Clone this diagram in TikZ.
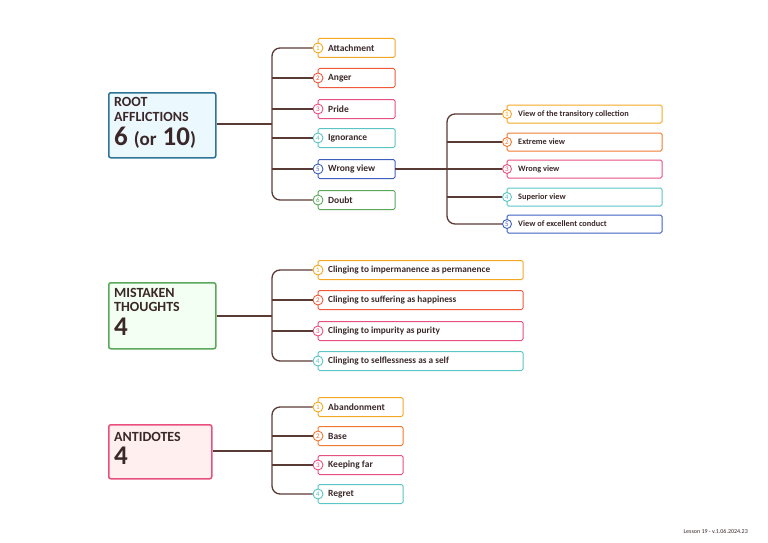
\documentclass[tikz,border=0pt]{standalone}
\usepackage{fontspec}
\setmainfont{Carlito}
\begin{document}
\definecolor{ln}{HTML}{5A3A35}
\definecolor{tx}{HTML}{3A2828}
\definecolor{cA}{HTML}{F5A623}
\definecolor{cB}{HTML}{F05A3A}
\definecolor{cO}{HTML}{F07A30}
\definecolor{cC}{HTML}{E8507F}
\definecolor{cD}{HTML}{5BC4C4}
\definecolor{cE}{HTML}{3F5FBF}
\definecolor{cF}{HTML}{5AA85A}
\definecolor{cR}{HTML}{2E7497}
\begin{tikzpicture}[x=1pt,y=-1pt,
  conn/.style={draw=ln,line width=1.3pt,rounded corners=8pt},
  ttl/.style={anchor=north west,text=tx,font=\bfseries\fontsize{14}{14}\selectfont,inner sep=0pt},
  big/.style={anchor=north west,text=tx,font=\bfseries\fontsize{27}{27}\selectfont,inner sep=0pt},
  lbl/.style={anchor=west,text=tx,font=\bfseries\fontsize{#1}{#1}\selectfont,inner sep=0pt},
  num/.style={circle,draw=#1,fill=white,line width=0.9pt,inner sep=0pt,minimum size=10pt,text=#1,font=\fontsize{7}{7}\selectfont}]
\useasboundingbox (0,0) rectangle (768,543);
% ROOT
\node[fill=cyan!8,draw=cR,line width=1.5pt,rounded corners=2pt,minimum width=107pt,minimum height=65pt,anchor=north west] (root) at (108,92) {};
\node[ttl] (t1) at (114,97) {ROOT};
\node[ttl] (t2) at (114,112) {AFFLICTIONS};
\node[big] (t3) at (114,127) {6 {\fontsize{19}{19}\selectfont(or} 10{\fontsize{19}{19}\selectfont)}};
\foreach \n/\t/\c/\y in {1/Attachment/cA/48,2/Anger/cB/78,3/Pride/cC/109,4/Ignorance/cD/138,5/Wrong view/cE/169,6/Doubt/cF/200}{
  \draw[\c,line width=1pt,rounded corners=1.5pt] (318,\y-9.5) rectangle (395,\y+9.5);
  \node[lbl=9.5] at (328,\y) {\t};
  \node[num=\c] (r\n) at (318,\y) {\n};}
\coordinate (rj) at (272,124);
\draw[conn] (root.east|-rj) -- (rj);
\draw[conn] (r1.west) -- (272,48) -- (272,200) -- (r6.west);
\foreach \n in {2,3,4,5}{\draw[conn] (272,0|-r\n) -- (r\n.west);}
% sub
\foreach \n/\t/\c/\y in {1/View of the transitory collection/cA/114,2/Extreme view/cO/142,3/Wrong view/cC/169,4/Superior view/cD/197,5/View of excellent conduct/cE/224}{
  \draw[\c,line width=1pt,rounded corners=1.5pt] (507,\y-9) rectangle (662,\y+9);
  \node[lbl=8.3] at (518,\y) {\t};
  \node[num=\c,minimum size=9pt] (s\n) at (507,\y) {\n};}
\draw[conn] (395,169) -- (447,169);
\draw[conn] (s1.west) -- (447,114) -- (447,224) -- (s5.west);
\foreach \n in {2,3,4}{\draw[conn] (447,0|-s\n) -- (s\n.west);}
% MISTAKEN
\node[fill=green!5,draw=cF,line width=1.5pt,rounded corners=2pt,minimum width=107pt,minimum height=66pt,anchor=north west] (mt) at (108,282) {};
\node[ttl] at (114,288) {MISTAKEN};
\node[ttl] at (114,302) {THOUGHTS};
\node[big] at (114,318) {4};
\foreach \n/\t/\c/\y in {1/Clinging to impermanence as permanence/cA/270,2/Clinging to suffering as happiness/cB/300,3/Clinging to impurity as purity/cC/331,4/Clinging to selflessness as a self/cD/361}{
  \draw[\c,line width=1pt,rounded corners=1.5pt] (318,\y-9.5) rectangle (523,\y+9.5);
  \node[lbl=9.3] at (328,\y) {\t};
  \node[num=\c] (m\n) at (318,\y) {\n};}
\draw[conn] (mt.east|-0,316) -- (272,316);
\draw[conn] (m1.west) -- (272,270) -- (272,361) -- (m4.west);
\foreach \n in {2,3}{\draw[conn] (272,0|-m\n) -- (m\n.west);}
% ANTIDOTES
\node[fill=pink!25,draw=cC,line width=1.5pt,rounded corners=2pt,minimum width=103pt,minimum height=54pt,anchor=north west] (an) at (108,424) {};
\node[ttl] at (114,432) {ANTIDOTES};
\node[big] at (114,447) {4};
\foreach \n/\t/\c/\y in {1/Abandonment/cA/407,2/Base/cO/436,3/Keeping far/cC/465,4/Regret/cD/494}{
  \draw[\c,line width=1pt,rounded corners=1.5pt] (318,\y-9.5) rectangle (403,\y+9.5);
  \node[lbl=9.5] at (328,\y) {\t};
  \node[num=\c] (a\n) at (318,\y) {\n};}
\draw[conn] (an.east|-0,451) -- (272,451);
\draw[conn] (a1.west) -- (272,407) -- (272,494) -- (a4.west);
\foreach \n in {2,3}{\draw[conn] (272,0|-a\n) -- (a\n.west);}
\node[anchor=east,text=tx,font=\fontsize{6}{6}\selectfont,inner sep=0pt] (ft) at (748,531) {Lesson 19 - v.1.06.2024.23};
\end{tikzpicture}
\end{document}
